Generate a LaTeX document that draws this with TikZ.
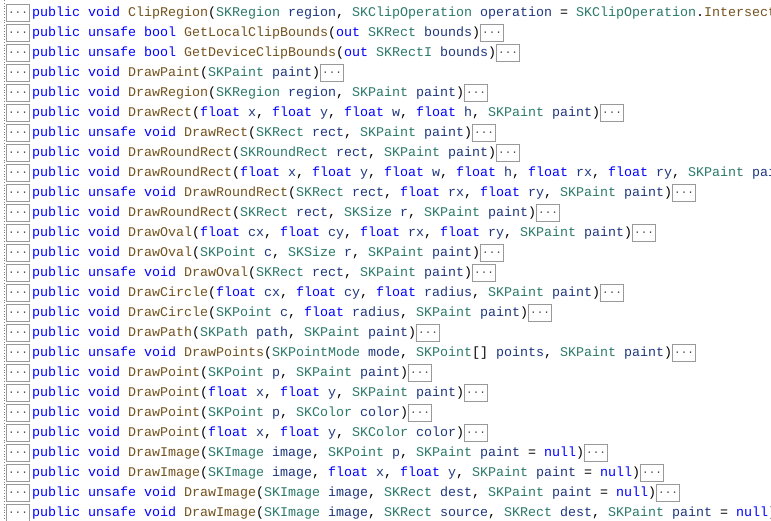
\documentclass[tikz,border=0pt]{standalone}
\usepackage{fontspec}
\setmonofont{Liberation Mono}
\definecolor{kwc}{HTML}{0000FF}
\definecolor{mec}{HTML}{74531F}
\definecolor{tyc}{HTML}{2B7A6A}
\definecolor{pac}{HTML}{1F377F}
\newcommand{\kw}[1]{\textcolor{kwc}{#1}}
\newcommand{\me}[1]{\textcolor{mec}{#1}}
\newcommand{\ty}[1]{\textcolor{tyc}{#1}}
\newcommand{\pa}[1]{\textcolor{pac}{#1}}
\tikzset{codetxt/.style={anchor=west,inner sep=0pt,font=\ttfamily\fontsize{13.33}{16}\selectfont},
 foldbox/.style={draw=gray!80,fill=white,minimum width=23pt,minimum height=17pt,inner sep=0pt,font=\ttfamily\fontsize{11}{12}\selectfont,text=black!70}}
\newcommand{\Ln}[2]{\node[foldbox] (f#1) at (18pt,-13pt-20pt*#1+20pt) {...};
 \node[codetxt] (t#1) at (32pt,-13pt-20pt*#1+20pt) {\strut #2};}
\newcommand{\Lb}[2]{\Ln{#1}{#2}\node[foldbox,anchor=west] (e#1) at (t#1.east) {...};}
\begin{document}
\begin{tikzpicture}[x=1pt,y=1pt]
\useasboundingbox (0,0) rectangle (771,-520);
\clip (0,0) rectangle (771,-520);
\fill[white] (0,0) rectangle (771,-520);
\draw[gray,dotted,line width=0.8pt] (4,0) -- (4,-520);
\Ln{1}{\kw{public void} \me{ClipRegion}(\ty{SKRegion} \pa{region}, \ty{SKClipOperation} \pa{operation} = \ty{SKClipOperation}.\me{Intersect})}
\Lb{2}{\kw{public unsafe bool} \me{GetLocalClipBounds}(\kw{out} \ty{SKRect} \pa{bounds})}
\Lb{3}{\kw{public unsafe bool} \me{GetDeviceClipBounds}(\kw{out} \ty{SKRectI} \pa{bounds})}
\Lb{4}{\kw{public void} \me{DrawPaint}(\ty{SKPaint} \pa{paint})}
\Lb{5}{\kw{public void} \me{DrawRegion}(\ty{SKRegion} \pa{region}, \ty{SKPaint} \pa{paint})}
\Lb{6}{\kw{public void} \me{DrawRect}(\kw{float} \pa{x}, \kw{float} \pa{y}, \kw{float} \pa{w}, \kw{float} \pa{h}, \ty{SKPaint} \pa{paint})}
\Lb{7}{\kw{public unsafe void} \me{DrawRect}(\ty{SKRect} \pa{rect}, \ty{SKPaint} \pa{paint})}
\Lb{8}{\kw{public void} \me{DrawRoundRect}(\ty{SKRoundRect} \pa{rect}, \ty{SKPaint} \pa{paint})}
\Ln{9}{\kw{public void} \me{DrawRoundRect}(\kw{float} \pa{x}, \kw{float} \pa{y}, \kw{float} \pa{w}, \kw{float} \pa{h}, \kw{float} \pa{rx}, \kw{float} \pa{ry}, \ty{SKPaint} \pa{paint})}
\Lb{10}{\kw{public unsafe void} \me{DrawRoundRect}(\ty{SKRect} \pa{rect}, \kw{float} \pa{rx}, \kw{float} \pa{ry}, \ty{SKPaint} \pa{paint})}
\Lb{11}{\kw{public void} \me{DrawRoundRect}(\ty{SKRect} \pa{rect}, \ty{SKSize} \pa{r}, \ty{SKPaint} \pa{paint})}
\Lb{12}{\kw{public void} \me{DrawOval}(\kw{float} \pa{cx}, \kw{float} \pa{cy}, \kw{float} \pa{rx}, \kw{float} \pa{ry}, \ty{SKPaint} \pa{paint})}
\Lb{13}{\kw{public void} \me{DrawOval}(\ty{SKPoint} \pa{c}, \ty{SKSize} \pa{r}, \ty{SKPaint} \pa{paint})}
\Lb{14}{\kw{public unsafe void} \me{DrawOval}(\ty{SKRect} \pa{rect}, \ty{SKPaint} \pa{paint})}
\Lb{15}{\kw{public void} \me{DrawCircle}(\kw{float} \pa{cx}, \kw{float} \pa{cy}, \kw{float} \pa{radius}, \ty{SKPaint} \pa{paint})}
\Lb{16}{\kw{public void} \me{DrawCircle}(\ty{SKPoint} \pa{c}, \kw{float} \pa{radius}, \ty{SKPaint} \pa{paint})}
\Lb{17}{\kw{public void} \me{DrawPath}(\ty{SKPath} \pa{path}, \ty{SKPaint} \pa{paint})}
\Lb{18}{\kw{public unsafe void} \me{DrawPoints}(\ty{SKPointMode} \pa{mode}, \ty{SKPoint}[] \pa{points}, \ty{SKPaint} \pa{paint})}
\Lb{19}{\kw{public void} \me{DrawPoint}(\ty{SKPoint} \pa{p}, \ty{SKPaint} \pa{paint})}
\Lb{20}{\kw{public void} \me{DrawPoint}(\kw{float} \pa{x}, \kw{float} \pa{y}, \ty{SKPaint} \pa{paint})}
\Lb{21}{\kw{public void} \me{DrawPoint}(\ty{SKPoint} \pa{p}, \ty{SKColor} \pa{color})}
\Lb{22}{\kw{public void} \me{DrawPoint}(\kw{float} \pa{x}, \kw{float} \pa{y}, \ty{SKColor} \pa{color})}
\Lb{23}{\kw{public void} \me{DrawImage}(\ty{SKImage} \pa{image}, \ty{SKPoint} \pa{p}, \ty{SKPaint} \pa{paint} = \kw{null})}
\Lb{24}{\kw{public void} \me{DrawImage}(\ty{SKImage} \pa{image}, \kw{float} \pa{x}, \kw{float} \pa{y}, \ty{SKPaint} \pa{paint} = \kw{null})}
\Lb{25}{\kw{public unsafe void} \me{DrawImage}(\ty{SKImage} \pa{image}, \ty{SKRect} \pa{dest}, \ty{SKPaint} \pa{paint} = \kw{null})}
\Ln{26}{\kw{public unsafe void} \me{DrawImage}(\ty{SKImage} \pa{image}, \ty{SKRect} \pa{source}, \ty{SKRect} \pa{dest}, \ty{SKPaint} \pa{paint} = \kw{null})}
\end{tikzpicture}
\end{document}
